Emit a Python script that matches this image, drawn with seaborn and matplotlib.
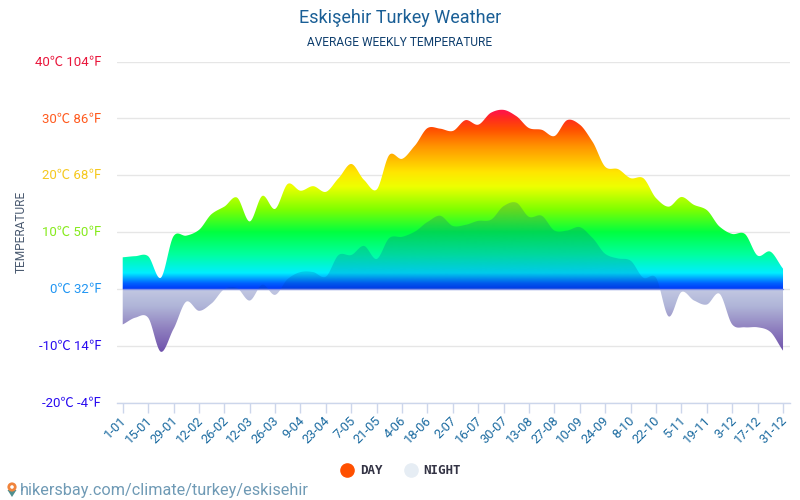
import numpy as np
import pandas as pd
import matplotlib
matplotlib.use("Agg")
import matplotlib.pyplot as plt
from matplotlib.colors import to_rgb
from matplotlib.lines import Line2D
from matplotlib.patches import Circle, Polygon
from matplotlib.transforms import ScaledTranslation
import seaborn as sns

tick_labels = ["1-01","15-01","29-01","12-02","26-02","12-03","26-03","9-04","23-04","7-05","21-05","4-06","18-06",
               "2-07","16-07","30-07","13-08","27-08","10-09","24-09","8-10","22-10","5-11","19-11","3-12","17-12","31-12"]
day_temps = [5.6,5.8,5.8,2.0,9.3,9.4,10.4,13.2,14.5,16.1,11.9,16.4,14.1,18.5,17.3,18.1,17.1,19.5,22.0,19.2,17.5,
             23.6,22.9,25.2,28.3,28.2,27.8,29.7,28.9,31.0,31.5,30.4,28.3,28.0,26.9,29.7,28.9,25.9,21.5,21.1,19.5,19.5,
             16.0,14.5,16.2,14.8,13.9,11.0,9.7,9.7,5.9,6.6,3.6]
night_temps = [-6.2,-5.0,-5.0,-11.0,-7.0,-2.2,-3.8,-2.5,0.0,0.2,-2.0,0.8,-1.0,1.8,3.0,3.0,2.2,6.0,6.0,7.6,5.3,
               9.0,9.2,10.1,11.8,12.9,11.1,11.3,12.0,12.2,14.6,15.2,12.7,12.9,10.3,10.3,10.9,9.0,6.2,5.4,5.0,2.0,2.0,
               -4.8,-0.5,-2.0,-2.7,-0.8,-6.2,-6.7,-6.7,-7.5,-10.8]
y_ticks = [-20,-10,0,10,20,30,40]
y_labels = ["-20℃ -4℉","-10℃ 14℉","0℃ 32℉","10℃ 50℉","20℃ 68℉","30℃ 86℉","40℃ 104℉"]
y_colors = ["#2a0cf0","#2a0cf0","#2196f3","#86ea1c","#f5c81e","#ff5a1e","#e9173c"]


def smooth(values, n=16):
    """Draw a rounded line through the weekly values (Catmull-Rom rendering)."""
    v = np.asarray(values, float)
    m = np.gradient(v) * 0.9
    xs, ys = [], []
    for i in range(len(v) - 1):
        t = np.linspace(0, 1, n, endpoint=False)
        h00 = 2*t**3 - 3*t**2 + 1
        h10 = t**3 - 2*t**2 + t
        h01 = -2*t**3 + 3*t**2
        h11 = t**3 - t**2
        xs.append(i + t)
        ys.append(h00*v[i] + h10*m[i] + h01*v[i+1] + h11*m[i+1])
    return np.r_[np.concatenate(xs), len(v)-1], np.r_[np.concatenate(ys), v[-1]]


def gradient_rgba(stops, lo, hi, rows=700):
    temps = np.linspace(hi, lo, rows)
    st = [s[0] for s in stops]
    rgb = np.array([to_rgb(s[1]) for s in stops])
    al = [s[2] for s in stops]
    out = np.zeros((rows, 1, 4))
    for k in range(3):
        out[:, 0, k] = np.interp(temps, st, rgb[:, k])
    out[:, 0, 3] = np.interp(temps, st, al)
    return out


sns.set_theme(style="white")
plt.rcParams["font.family"] = ["Roboto", "Noto Sans CJK SC", "DejaVu Sans"]
fig = plt.figure(figsize=(8, 5), dpi=100)
ax = fig.add_axes([117/800, 1-403/500, 673/800, 341.5/500])

x_d, y_d = smooth(day_temps)
x_n, y_n = smooth(night_temps)
curves = pd.DataFrame({"week": x_d, "day": y_d, "night": y_n})
sns.lineplot(data=curves, x="week", y="day", ax=ax, linewidth=0, legend=False)
sns.lineplot(data=curves, x="week", y="night", ax=ax, linewidth=0, legend=False)

ax.set_xlim(-0.45, 52.55)
ax.set_ylim(-20, 40)

day_stops = [(0,"#0038f8",1),(1.0,"#0060ff",1),(2.8,"#00eeff",1),(6,"#00ffa0",1),(10,"#00ff40",1),(14,"#80ff00",1),
             (18,"#eeff00",1),(20.5,"#ffe600",1),(25,"#ff9500",1),(28,"#ff5000",1),(30,"#ff2a20",1),(31,"#ff1744",1)]
night_stops = [(-11,"#7052ac",1),(-7,"#8f80bf",1),(-3,"#b0b5d8",1),(-0.01,"#c2c8e2",1),
               (0.01,"#003ca0",.2),(40,"#003ca0",.2)]

day_shape = ax.fill_between(x_d, 0, y_d, color="none", lw=0)
night_shape = ax.fill_between(x_n, 0, y_n, color="none", lw=0)
extent = (-0.45, 52.55, -20, 40)
im_d = ax.imshow(gradient_rgba(day_stops, -20, 40), extent=extent, aspect="auto", zorder=2, interpolation="bilinear")
im_d.set_clip_path(day_shape.get_paths()[0], transform=ax.transData)
im_n = ax.imshow(gradient_rgba(night_stops, -20, 40), extent=extent, aspect="auto", zorder=3, interpolation="bilinear")
im_n.set_clip_path(night_shape.get_paths()[0], transform=ax.transData)
ax.set_xlim(-0.45, 52.55)
ax.set_ylim(-20, 40)

ax.set_axisbelow(True)
ax.yaxis.grid(True, color="#e6e6e6", lw=1)
ax.xaxis.grid(False)
ax.plot([0, 52], [0, 0], color="#7f90e8", lw=1, zorder=4)
for s in ["top", "left", "right"]:
    ax.spines[s].set_visible(False)
ax.spines["bottom"].set_color("#ccd6eb")
ax.spines["bottom"].set_linewidth(1)

ax.set_xticks(np.arange(0, 53, 2))
ax.set_xticklabels(tick_labels, rotation=45, ha="right", va="top", rotation_mode="anchor",
                   fontsize=9.3, color="#1a6aa0")
ax.tick_params(axis="x", length=7, width=1, color="#ccd6eb", pad=1, bottom=True)
shift_x = ScaledTranslation(-2.5/100, 0, fig.dpi_scale_trans)
for lab in ax.get_xticklabels():
    lab.set_transform(lab.get_transform() + shift_x)
ax.set_yticks(y_ticks)
ax.set_yticklabels(y_labels, fontsize=9.5)
ax.tick_params(axis="y", length=0, pad=11)
shift_y = ScaledTranslation(0, 1/100, fig.dpi_scale_trans)
for lab, c in zip(ax.get_yticklabels(), y_colors):
    lab.set_color(c)
    lab.set_transform(lab.get_transform() + shift_y)
ax.set_xlabel("")
ax.set_ylabel("")

fig.text(0.5, 1-18/500, "Eskişehir Turkey Weather", ha="center", va="center", fontsize=13, color="#1a5f96")
fig.text(0.5, 1-42/500, "AVERAGE WEEKLY TEMPERATURE", ha="center", va="center", fontsize=8.6, color="#0f3f6e")
fig.text(21/800, 1-232/500, "TEMPERATURE", rotation=90, ha="center", va="center", fontsize=8.6, color="#4a5a70")

handles = [Line2D([], [], marker="o", ls="", ms=9.5, mfc="#ff5000", mec="#ff5000"),
           Line2D([], [], marker="o", ls="", ms=9.5, mfc="#e6edf4", mec="#e6edf4")]
leg = fig.legend(handles, ["DAY", "NIGHT"], loc="center", bbox_to_anchor=(401/800, 1-471/500), ncol=2, frameon=False,
                 prop={"family": "DejaVu Sans Mono", "weight": "bold", "size": 9},
                 handlelength=1, handletextpad=0.55, columnspacing=1.74)
for t in leg.get_texts():
    t.set_color("#333344")

fig.text(20/800, 1-490/500, "hikersbay.com/climate/turkey/eskisehir", ha="left", va="center", fontsize=11.7, color="#6f9ab5")
px = lambda x, y: (x/800, 1-y/500)
fig.add_artist(Polygon([px(7.5, 490), px(16.5, 490), px(12, 497)], transform=fig.transFigure, fc="#4f8f8f", ec="none"))
fig.add_artist(Circle((12, 500-487), 4.6, transform=None, fc="#f0843c", ec="none"))
fig.add_artist(Circle((12, 500-487), 1.8, transform=None, fc="white", ec="none"))

fig.savefig("out.png", dpi=100)
